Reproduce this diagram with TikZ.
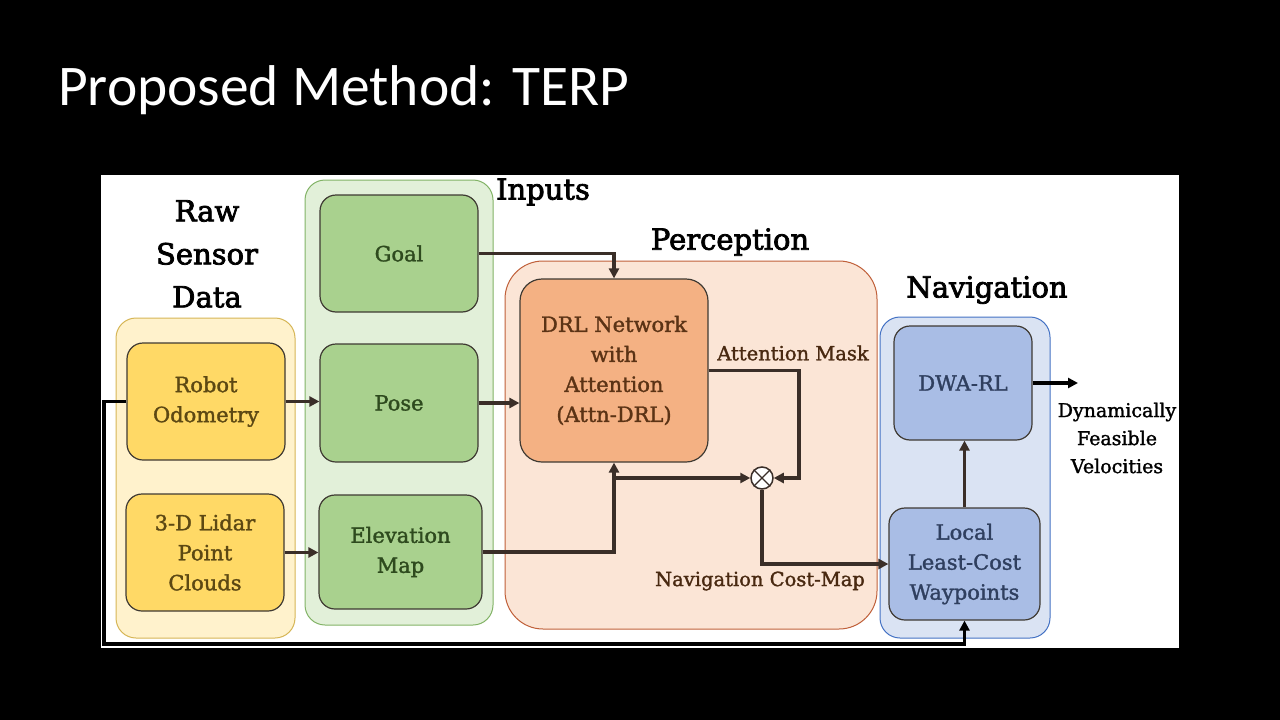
\documentclass[tikz,border=0pt]{standalone}
\usepackage{fontspec}
\setmainfont{DejaVu Serif}[BoldFont=DejaVu Serif, BoldFeatures={FakeBold=2.6}]
\newfontfamily\semib{DejaVu Serif}[BoldFont=DejaVu Serif, BoldFeatures={FakeBold=1.5}]
\newfontfamily\titlefont{Carlito}
\usetikzlibrary{arrows.meta}
\definecolor{yOut}{HTML}{FFF2CC}\definecolor{yOutD}{HTML}{D6B656}
\definecolor{yBox}{HTML}{FFD966}\definecolor{yTxt}{HTML}{5C4813}
\definecolor{gOut}{HTML}{E2F0D9}\definecolor{gOutD}{HTML}{82B366}
\definecolor{gBox}{HTML}{A9D18E}\definecolor{gTxt}{HTML}{2E4A1E}
\definecolor{pOut}{HTML}{FBE5D6}\definecolor{pOutD}{HTML}{C0603A}
\definecolor{pBox}{HTML}{F4B183}\definecolor{pTxt}{HTML}{5B3315}
\definecolor{bOut}{HTML}{DAE3F3}\definecolor{bOutD}{HTML}{4472C4}
\definecolor{bBox}{HTML}{A9BDE5}\definecolor{bTxt}{HTML}{2F3F5F}
\definecolor{lineC}{HTML}{3A2E28}
\definecolor{boxD}{HTML}{3F3A33}
\tikzset{
  grp/.style={draw, line width=1pt, rounded corners=20pt, inner sep=0pt},
  blk/.style={draw=boxD, line width=1.2pt, rounded corners=16pt, inner sep=0pt, align=center,
    font=\semib\bfseries\fontsize{21}{30}\selectfont},
  glabel/.style={align=center, font=\bfseries\fontsize{29}{43}\selectfont, text=black},
  slabel/.style={align=center, font=\semib\bfseries\fontsize{19.5}{28}\selectfont},
  arr/.style={draw=lineC, line width=3.2pt, -{Triangle[length=10pt,width=10pt]}},
  fb/.style={draw=black, line width=3.5pt, -{Triangle[length=10pt,width=10pt]}},
}
\begin{document}
\begin{tikzpicture}[x=1pt,y=-1pt]
\fill[black] (0,0) rectangle (1280,720);
\useasboundingbox (0,0) rectangle (1280,720);
\node[anchor=base west, text=white, font=\titlefont\fontsize{57.5}{58}\selectfont, inner sep=0pt] (title) at (58,105) {Proposed Method: TERP};
\fill[white] (101,175) rectangle (1179,648);

% groups
\node[grp, fill=yOut, draw=yOutD, minimum width=179pt, minimum height=320pt] (gyel) at (205.5,478) {};
\node[grp, fill=gOut, draw=gOutD, minimum width=188pt, minimum height=445pt] (ggrn) at (399,402.5) {};
\node[grp, fill=pOut, draw=pOutD, rounded corners=38pt, minimum width=372pt, minimum height=368pt] (gper) at (691,445) {};
\node[grp, fill=bOut, draw=bOutD, minimum width=170pt, minimum height=321pt] (gnav) at (965,477.5) {};

% group labels
\node[glabel] (lraw) at (207,254) {Raw\\Sensor\\Data};
\node[glabel] (linp) at (543,192) {Inputs};
\node[glabel] (lper) at (730,242) {Perception};
\node[glabel] (lnav) at (987,290) {Navigation};

% blocks
\node[blk, fill=yBox, text=yTxt, minimum width=158pt, minimum height=117pt] (odo) at (206,401.5) {Robot\\Odometry};
\node[blk, fill=yBox, text=yTxt, minimum width=158pt, minimum height=117pt] (lidar) at (205,552.5) {3-D Lidar\\Point\\Clouds};
\node[blk, fill=gBox, text=gTxt, minimum width=158pt, minimum height=117pt] (goal) at (399,253.5) {Goal};
\node[blk, fill=gBox, text=gTxt, minimum width=158pt, minimum height=118pt] (pose) at (399,403) {Pose};
\node[blk, fill=gBox, text=gTxt, minimum width=163pt, minimum height=114pt] (elev) at (400.5,552) {Elevation\\Map};
\node[blk, fill=pBox, text=pTxt, rounded corners=22pt, minimum width=188pt, minimum height=183pt] (drl) at (614,370.5) {DRL Network\\with\\Attention\\(Attn-DRL)};
\node[blk, fill=bBox, text=bTxt, minimum width=138pt, minimum height=114pt] (dwa) at (963,383) {DWA-RL};
\node[blk, fill=bBox, text=bTxt, minimum width=151pt, minimum height=112pt] (local) at (964.5,564) {Local\\Least-Cost\\Waypoints};

% otimes
\node[circle, draw=lineC, line width=1.5pt, fill=white, minimum size=22pt, inner sep=0pt] (ot) at (762,478) {};
\draw[lineC, line width=1.3pt] (ot.north east) -- (ot.south west) (ot.north west) -- (ot.south east);

% text labels
\node[slabel, text=pTxt!80!black] (am) at (793,353) {Attention Mask};
\node[slabel, text=pTxt!80!black] (ncm) at (760,581) {Navigation Cost-Map};
\node[slabel, text=black, font=\semib\bfseries\fontsize{19}{28}\selectfont] (dfv) at (1117,438) {Dynamically\\Feasible\\Velocities};

% coordinates
\coordinate (amc) at (799,478);
\coordinate (out) at (1078,383);
\coordinate (fb1) at (104,644);

% connectors
\draw[arr] (odo.east) -- (odo.east -| pose.west);
\draw[arr] (lidar.east) -- (lidar.east -| elev.west);
\draw[arr] (goal.east) -| (drl.north);
\draw[arr] (pose.east) -- (pose.east -| drl.west);
\draw[arr] (elev.east) -| (drl.south);
\draw[arr] (drl.south |- ot.west) -- (ot.west);
\draw[arr] (drl.east) -| (amc) -- (ot.east);
\draw[arr] (ot.south) |- (local.west);
\draw[arr] (local.north) -- (local.north |- dwa.south);
\draw[arr, draw=black] (dwa.east) -- (out);
\draw[fb] (odo.west) -| (fb1) -| (local.south);
\end{tikzpicture}
\end{document}
